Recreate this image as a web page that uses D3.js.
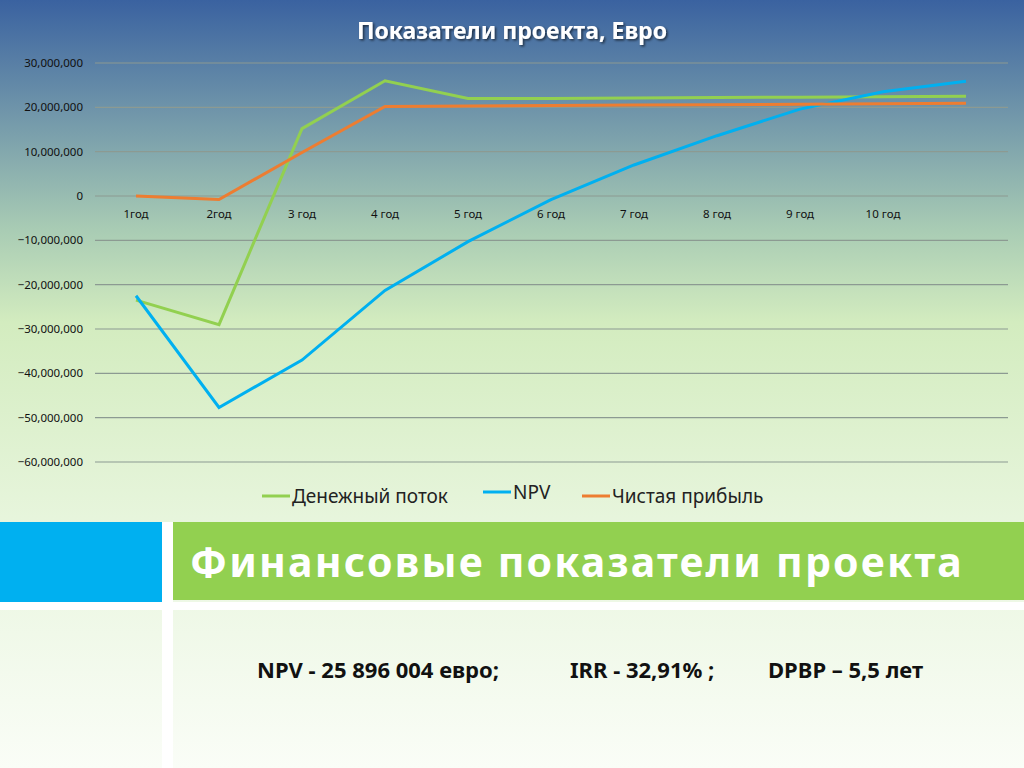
<!DOCTYPE html>
<html><head><meta charset="utf-8">
<script src="https://cdn.jsdelivr.net/npm/d3@7"></script>
<style>
body{margin:0;}
svg{display:block;font-family:"Noto Sans",sans-serif;}
</style></head>
<body><div id="chart"></div>
<script>
//Data
var years = ["1год","2год","3 год","4 год","5 год","6 год","7 год","8 год","9 год","10 год",""];
var cashFlow = [-23.5e6,-29e6,15.2e6,26e6,22e6,22e6,22.1e6,22.2e6,22.3e6,22.4e6,22.5e6];
var npv = [-22.5e6,-47.7e6,-37e6,-21.3e6,-10.3e6,-0.8e6,7e6,13.6e6,19.6e6,23.5e6,25.9e6];
var netProfit = [0,-0.8e6,9.8e6,20.2e6,20.3e6,20.4e6,20.5e6,20.6e6,20.7e6,20.8e6,20.9e6];
var yTicks = [30e6,20e6,10e6,0,-10e6,-20e6,-30e6,-40e6,-50e6,-60e6];
var series = [
  {name:"Денежный поток", values:cashFlow, color:"#92d050"},
  {name:"NPV", values:npv, color:"#00b0f0"},
  {name:"Чистая прибыль", values:netProfit, color:"#ed7d31"}
];

var W = 1024, H = 768;
var svg = d3.select("#chart").append("svg").attr("width",W).attr("height",H);
var defs = svg.append("defs");
var grad = defs.append("linearGradient").attr("id","bg").attr("x1",0).attr("y1",0).attr("x2",0).attr("y2",1);
grad.append("stop").attr("offset","0").attr("stop-color","#3a62a0");
grad.append("stop").attr("offset","0.3").attr("stop-color","#a9ccb4");
grad.append("stop").attr("offset","0.42").attr("stop-color","#d3ecbf");
grad.append("stop").attr("offset","0.7").attr("stop-color","#e9f6df");
grad.append("stop").attr("offset","1").attr("stop-color","#fafdf7");
svg.append("rect").attr("width",W).attr("height",H).attr("fill","url(#bg)");

var shadow = defs.append("filter").attr("id","sh");
shadow.append("feDropShadow").attr("dx",1.5).attr("dy",1.5).attr("stdDeviation",1).attr("flood-color","#000").attr("flood-opacity",0.6);

// scales
var x = d3.scalePoint().domain(d3.range(years.length)).range([136,966]);
var y = d3.scaleLinear().domain([-60e6,30e6]).range([462,63]);

svg.append("text").attr("x",512).attr("y",39).attr("text-anchor","middle")
  .attr("fill","#fff").attr("font-size",23).attr("font-weight","bold")
  .attr("filter","url(#sh)").text("Показатели проекта, Евро");

// grid
svg.append("g").selectAll("line").data(yTicks).join("line")
  .attr("x1",95).attr("x2",1008).attr("y1",d=>y(d)).attr("y2",d=>y(d))
  .attr("stroke","#8c9a92").attr("stroke-width",1.2);

var fmt = d3.format(",");
svg.append("g").selectAll("text").data(yTicks).join("text")
  .attr("x",83).attr("y",d=>y(d)+4).attr("text-anchor","end")
  .attr("font-size",11.5).attr("fill","#111").text(d=>fmt(d));

svg.append("g").selectAll("text").data(years).join("text")
  .attr("x",(d,i)=>x(i)).attr("y",218).attr("text-anchor","middle")
  .attr("font-size",11.5).attr("fill","#111").text(d=>d);

var line = d3.line().x((d,i)=>x(i)).y(d=>y(d));
svg.append("g").selectAll("path").data(series).join("path")
  .attr("d",d=>line(d.values)).attr("fill","none")
  .attr("stroke",d=>d.color).attr("stroke-width",3);

// legend
var legendX = [262,483,582];
var lg = svg.append("g").selectAll("g").data(series).join("g")
  .attr("transform",(d,i)=>"translate("+legendX[i]+","+(i==1?492:496)+")");
lg.append("line").attr("x1",0).attr("x2",28).attr("stroke",d=>d.color).attr("stroke-width",3);
lg.append("text").attr("x",30).attr("y",7).attr("font-size",19).attr("fill","#222").text(d=>d.name);

// bottom banner
svg.append("rect").attr("x",0).attr("y",522).attr("width",162).attr("height",80).attr("fill","#00b0f0");
svg.append("rect").attr("x",173).attr("y",522).attr("width",851).attr("height",78).attr("fill","#92d050");
svg.append("rect").attr("x",162).attr("y",522).attr("width",11).attr("height",246).attr("fill","#fff");
svg.append("rect").attr("x",0).attr("y",602).attr("width",W).attr("height",8).attr("fill","#fff");
svg.append("text").attr("x",190).attr("y",577).attr("fill","#fff")
  .attr("font-size",41).attr("font-weight","bold")
  .attr("letter-spacing",2.2).text("Финансовые показатели проекта");

var facts = [["NPV - 25 896 004 евро;",257],["IRR - 32,91% ;",570],["DPBP – 5,5 лет",768]];
svg.append("g").selectAll("text").data(facts).join("text")
  .attr("x",d=>d[1]).attr("y",678).attr("font-size",22).attr("font-weight","bold")
  .attr("fill","#111").text(d=>d[0]);
</script></body></html>
